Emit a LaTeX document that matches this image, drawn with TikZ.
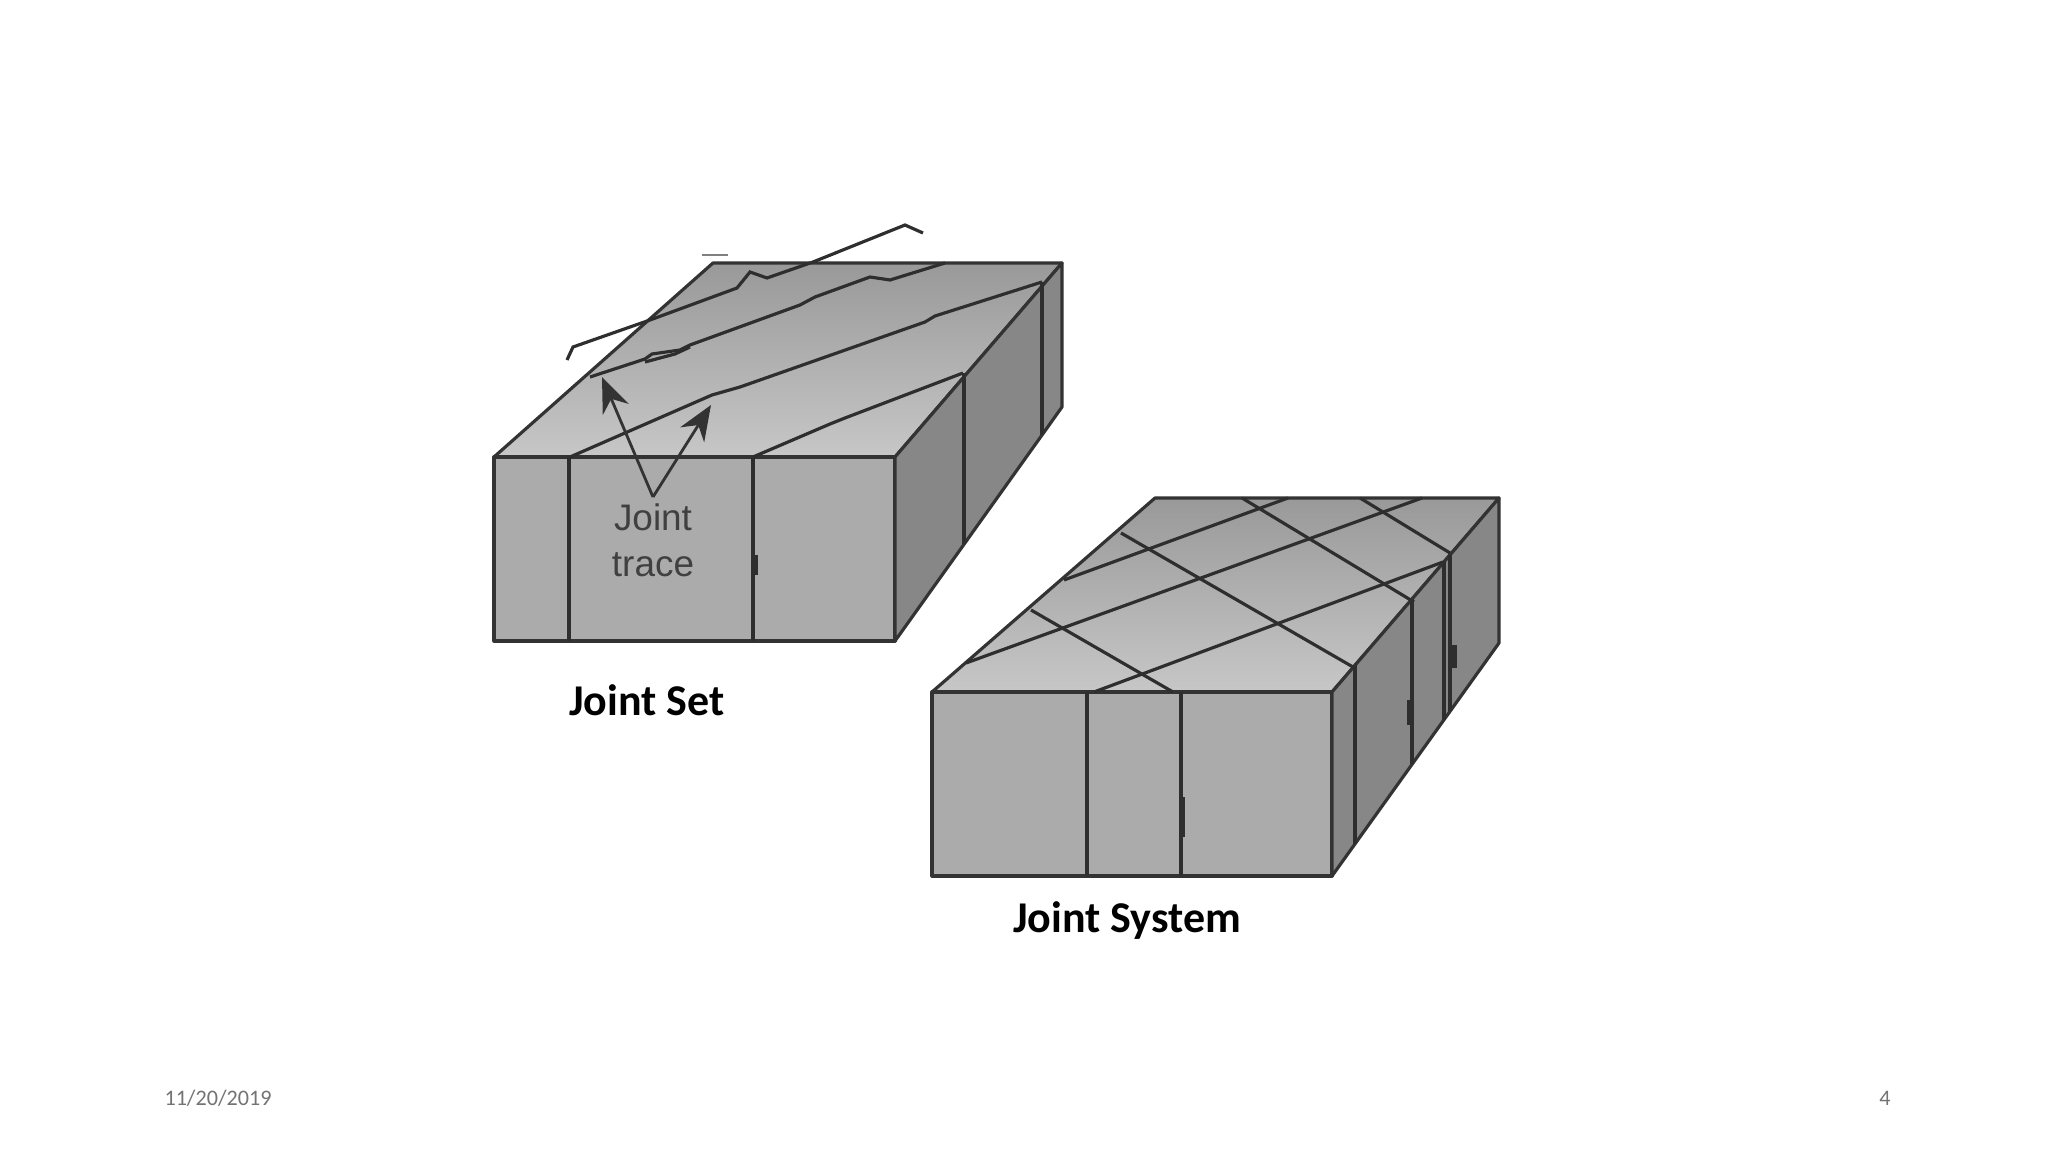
\documentclass[tikz,border=0pt]{standalone}
\usepackage{fontspec}
\setmainfont{Carlito}
\newfontfamily\lab{Liberation Sans}
\usetikzlibrary{arrows.meta}
\definecolor{edge}{HTML}{333333}
\tikzset{
  x=0.01cm,y=-0.01cm,
  bedge/.style={draw=edge,line width=0.9pt,line join=round},
  jnt/.style={draw=edge!90!black,line width=0.9pt},
  front/.style={bedge,fill=black!33},
  side/.style={bedge,fill=black!47},
  topf/.style={bedge,top color=black!40,bottom color=black!22},
  ptr/.style={draw=black!80,line width=0.8pt,-{Stealth[length=10pt,width=8pt]}},
  captext/.style={font=\bfseries\fontsize{12.5}{14}\selectfont,text=black},
  foot/.style={font=\fontsize{6.3}{8}\selectfont,text=black!55}
}
\begin{document}
\begin{tikzpicture}
\useasboundingbox[fill=white] (0,0) rectangle (2048,1152);
% ---------- Block 1: Joint Set ----------
\path[topf] (494,457) -- (713,263) -- (1062,263) -- (895,457) -- cycle;
\path[front] (494,457) rectangle (895,641);
\path[side] (895,457) -- (1062,263) -- (1062,407) -- (895,641) -- cycle;
% joints front
\draw[jnt] (569,457) -- (569,641);
\draw[jnt] (753,457) -- (753,641);
\draw[jnt] (756,555) -- (756,575);
% joints right face
\draw[jnt] (964,373) -- (964,544);
\draw[jnt] (1042,282) -- (1042,435);
% traces on top
\draw[jnt] (590,377) -- (645,359) -- (652,354) -- (680,350) -- (690,345) -- (800,305) -- (815,297) -- (870,277) -- (890,280) -- (945,263);
\draw[jnt] (645,362) -- (675,354) -- (690,347);
\draw[jnt] (570,457) -- (712,395) -- (740,387) -- (760,380) -- (925,322) -- (935,316) -- (1042,282);
\draw[jnt] (753,457) -- (830,424) -- (845,418) -- (963,373);
% sketch line above
\draw[jnt] (567,360) -- (573,347) -- (650,320) -- (737,288) -- (750,272) -- (767,278) -- (813,262) -- (905,225) -- (923,233);
\draw[jnt,black!50,line width=0.6pt] (702,255) -- (728,255);
% label and pointers
\node[font=\lab\fontsize{10.5}{13}\selectfont,text=black!75,align=center] (jt) at (653,540) {Joint\\trace};
\coordinate (apex) at (653,497);
\coordinate (tipA) at (602,377);
\coordinate (tipB) at (711,405);
\draw[ptr] (apex) -- (tipA);
\draw[ptr] (apex) -- (tipB);
\node[captext] (set) at (647,700) {Joint Set};
% ---------- Block 2: Joint System ----------
\path[topf] (932,692) -- (1155,498) -- (1499,498) -- (1332,692) -- cycle;
\path[front] (932,692) rectangle (1332,876);
\path[side] (1332,692) -- (1499,498) -- (1499,643) -- (1332,876) -- cycle;
% front joints
\draw[jnt] (1087,692) -- (1087,876);
\draw[jnt] (1181,692) -- (1181,876);
\draw[jnt,line width=1.4pt] (1183,797) -- (1183,837);
% right face joints
\draw[jnt] (1355,665) -- (1355,844);
\draw[jnt] (1412,599) -- (1412,764);
\draw[jnt] (1444,562) -- (1444,720);
\draw[jnt] (1450,555) -- (1450,711);
\draw[jnt,line width=1.5pt] (1410,700) -- (1410,725);
\draw[jnt,line width=1.5pt] (1454,645) -- (1454,668);
% top grid
\draw[jnt] (966,663) -- (1422,498);
\draw[jnt] (1064,580) -- (1288,498);
\draw[jnt] (1094,692) -- (1443,562);
\draw[jnt] (1031,610) -- (1173,692);
\draw[jnt] (1121,533) -- (1353,667);
\draw[jnt] (1242,498) -- (1414,602);
\draw[jnt] (1360,498) -- (1450,553);
\node[captext] (sys) at (1127,921) {Joint System};
% ---------- footer ----------
\node[foot] (date) at (218,1098) {11/20/2019};
\node[foot] (page) at (1885,1098) {4};
\end{tikzpicture}
\end{document}
